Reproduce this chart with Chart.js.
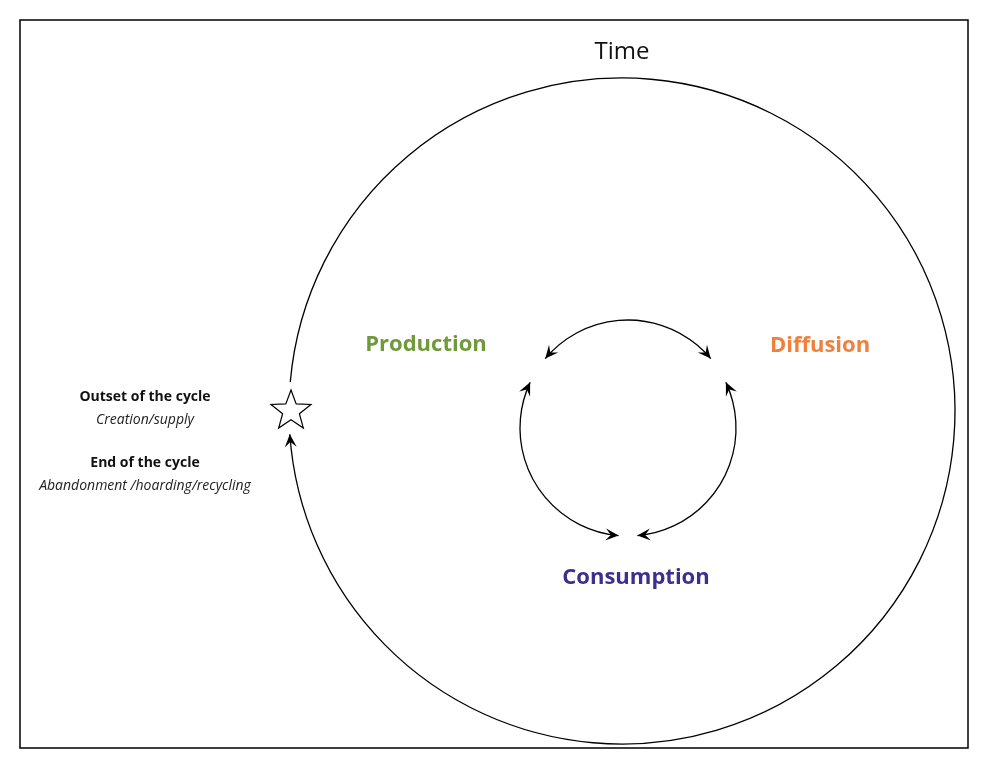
<!DOCTYPE html>
<html><head><meta charset="utf-8">
<script src="https://cdn.jsdelivr.net/npm/chart.js@4"></script>
<style>html,body{margin:0;padding:0;background:#fff}#w{width:986px;height:765px}</style>
</head><body><div id="w"><canvas id="c"></canvas></div>
<script>
// Diagram nodes (in 986x765 image coordinate units)
const circleNames = ["time", "cycle"];
const circleCX = [622, 628];
const circleCY = [411, 428];
const circleR = [333, 108];
// arcs: circle index, start/end angle (deg, clockwise), arrow at start, arrow at end
const arcCircle = [0, 1, 1, 1];
const arcStart = [185, -140, 95, -25];
const arcEnd = [536, -40, 205, 85];
const arcArrowStart = [false, true, true, true];
const arcArrowEnd = [true, true, true, true];
// labels
const labelText = ["Time", "Production", "Diffusion", "Consumption", "Outset of the cycle", "Creation/supply", "End of the cycle", "Abandonment /hoarding/recycling"];
const labelX = [622, 426, 820, 636, 145, 145, 145, 145];
const labelY = [52, 345, 346, 578, 397, 420, 463, 486];
const labelFont = ["24px 'Open Sans'", "bold 22px 'Open Sans'", "bold 22px 'Open Sans'", "bold 22px 'Open Sans'", "bold 14px 'Open Sans'", "italic 14px 'Open Sans'", "bold 14px 'Open Sans'", "italic 14px 'Open Sans'"];
const labelColor = ["#111", "#6f9a3b", "#f0803c", "#3b2f8f", "#111", "#222", "#111", "#222"];
const starX = [291], starY = [411], starR = [21];

const diagram = {
  id: 'diagram',
  afterDatasetsDraw(chart) {
    const ctx = chart.ctx, xs = chart.scales.x, ys = chart.scales.y;
    const px = v => xs.getPixelForValue(v), py = v => ys.getPixelForValue(v);
    const pr = r => Math.abs(xs.getPixelForValue(r) - xs.getPixelForValue(0));
    ctx.save();
    ctx.strokeStyle = '#000'; ctx.lineWidth = 1.5;
    ctx.strokeRect(px(20), py(20), px(968) - px(20), py(748) - py(20));
    const rad = d => d * Math.PI / 180;
    function arrow(x, y, dx, dy) {
      const L = 13, W = 6;
      ctx.beginPath();
      ctx.moveTo(x, y);
      ctx.lineTo(x - dx * L - dy * W, y - dy * L + dx * W);
      ctx.lineTo(x - dx * L * 0.6, y - dy * L * 0.6);
      ctx.lineTo(x - dx * L + dy * W, y - dy * L - dx * W);
      ctx.closePath(); ctx.fill();
    }
    ctx.fillStyle = '#000'; ctx.lineWidth = 1.3;
    for (let i = 0; i < arcCircle.length; i++) {
      const c = arcCircle[i];
      const cx = px(circleCX[c]), cy = py(circleCY[c]), r = pr(circleR[c]);
      const a0 = rad(arcStart[i]), a1 = rad(arcEnd[i]);
      ctx.beginPath(); ctx.arc(cx, cy, r, a0, a1, false); ctx.stroke();
      if (arcArrowEnd[i]) arrow(cx + r * Math.cos(a1), cy + r * Math.sin(a1), -Math.sin(a1), Math.cos(a1));
      if (arcArrowStart[i]) arrow(cx + r * Math.cos(a0), cy + r * Math.sin(a0), Math.sin(a0), -Math.cos(a0));
    }
    for (let s = 0; s < starX.length; s++) {
      const cx = px(starX[s]), cy = py(starY[s]), R = pr(starR[s]), r2 = R * 0.42;
      ctx.beginPath();
      for (let k = 0; k < 10; k++) {
        const a = -Math.PI / 2 + k * Math.PI / 5, rr = k % 2 ? r2 : R;
        const X = cx + rr * Math.cos(a), Y = cy + rr * Math.sin(a);
        k ? ctx.lineTo(X, Y) : ctx.moveTo(X, Y);
      }
      ctx.closePath(); ctx.fillStyle = '#fff'; ctx.fill(); ctx.lineWidth = 1.2; ctx.stroke();
    }
    ctx.textAlign = 'center'; ctx.textBaseline = 'middle';
    for (let i = 0; i < labelText.length; i++) {
      ctx.font = labelFont[i]; ctx.fillStyle = labelColor[i];
      ctx.fillText(labelText[i], px(labelX[i]), py(labelY[i]));
    }
    ctx.restore();
  }
};

new Chart(document.getElementById('c'), {
  type: 'scatter',
  data: { datasets: [{ data: [], pointRadius: 0 }] },
  options: {
    responsive: true, maintainAspectRatio: false, animation: false,
    layout: { padding: 0 },
    plugins: { legend: { display: false }, tooltip: { enabled: false } },
    scales: {
      x: { type: 'linear', min: 0, max: 986, display: false },
      y: { type: 'linear', min: 0, max: 765, reverse: true, display: false }
    }
  },
  plugins: [diagram]
});
</script></body></html>
